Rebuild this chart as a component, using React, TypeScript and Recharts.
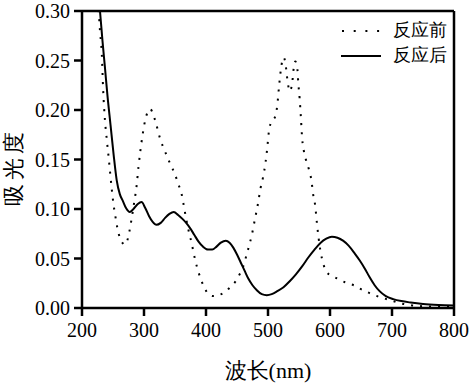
import { LineChart, Line, XAxis, YAxis, ReferenceLine, Legend } from 'recharts'

// 反应前 (dotted)
const beforeWl = [
  226, 229, 232, 234, 237, 240, 243, 245, 248, 251, 254, 257, 261, 265, 269, 273, 276, 280, 284, 288,
  291, 294, 298, 302, 306, 310, 314, 320, 326, 334, 342, 350, 356, 360, 364, 368, 372, 377, 382, 388,
  393, 398, 404, 412, 420, 430, 439, 449, 455, 460, 466, 470, 474, 479, 484, 488, 492, 496, 499, 501,
  504, 508, 512, 515, 518, 521, 525, 528, 531, 535, 539, 541, 544, 547, 549, 551, 553, 555, 558, 562,
  566, 570, 573, 576, 579, 584, 590, 595, 602, 611, 624, 638, 650, 664, 680, 697, 712, 729, 760, 800,
]
const beforeAbs = [
  0.31, 0.28, 0.256, 0.222, 0.19, 0.17, 0.152, 0.139, 0.12, 0.104, 0.092, 0.081, 0.071, 0.066, 0.064, 0.068, 0.076, 0.09, 0.106, 0.123,
  0.142, 0.158, 0.176, 0.19, 0.198, 0.201, 0.197, 0.185, 0.171, 0.158, 0.146, 0.135, 0.124, 0.117, 0.104, 0.09, 0.078, 0.065, 0.05, 0.036,
  0.027, 0.02, 0.014, 0.012, 0.013, 0.016, 0.021, 0.028, 0.035, 0.042, 0.055, 0.064, 0.074, 0.09, 0.106, 0.121, 0.132, 0.147, 0.163, 0.176,
  0.186, 0.19, 0.194, 0.205, 0.225, 0.242, 0.253, 0.248, 0.232, 0.219, 0.227, 0.24, 0.249, 0.244, 0.226, 0.212, 0.193, 0.172, 0.158, 0.148,
  0.14, 0.129, 0.114, 0.104, 0.085, 0.06, 0.043, 0.036, 0.033, 0.03, 0.026, 0.023, 0.019, 0.015, 0.011, 0.008, 0.005, 0.003, 0.0015, 0.001,
]

// 反应后 (solid)
const afterWl = [
  226, 229, 233, 237, 241, 246, 251, 256, 261, 266, 271, 277, 283, 290, 296, 302, 308, 314, 320, 327,
  334, 341, 348, 355, 362, 368, 374, 381, 388, 395, 403, 410, 417, 424, 432, 438, 444, 450, 456, 462,
  468, 475, 482, 490, 498, 506, 515, 525, 535, 545, 555, 565, 575, 585, 594, 603, 612, 621, 630, 640,
  648, 656, 664, 672, 680, 690, 702, 715, 730, 750, 775, 800,
]
const afterAbs = [
  0.32, 0.3, 0.27, 0.243, 0.215, 0.185, 0.155, 0.129, 0.115, 0.108, 0.101, 0.097, 0.1, 0.105, 0.107, 0.101, 0.093, 0.087, 0.084, 0.086,
  0.091, 0.095, 0.097, 0.094, 0.09, 0.086, 0.081, 0.074, 0.067, 0.062, 0.059, 0.059, 0.062, 0.066, 0.068, 0.066, 0.061, 0.054, 0.046, 0.038,
  0.03, 0.023, 0.018, 0.014, 0.013, 0.014, 0.017, 0.021, 0.027, 0.034, 0.042, 0.051, 0.059, 0.066, 0.07, 0.072, 0.071, 0.068, 0.063, 0.055,
  0.048, 0.04, 0.031, 0.023, 0.017, 0.012, 0.009, 0.007, 0.0055, 0.004, 0.003, 0.0025,
]

const xTicks = [200, 300, 400, 500, 600, 700, 800]
const yTicks = [0, 0.05, 0.1, 0.15, 0.2, 0.25, 0.3]

const before = beforeWl.map((wl, i) => ({ wl, a: beforeAbs[i] }))
const after = afterWl.map((wl, i) => ({ wl, a: afterAbs[i] }))

const serif = 'Liberation Serif'
const tickStyle = { fontSize: 20, fill: '#000', style: { fontFamily: serif } }

function YTitle({ viewBox }: any) {
  const cx = viewBox.x + 13
  const cy = viewBox.y + viewBox.height / 2 + 7
  return (
    <text x={cx} y={cy} transform={`rotate(-90, ${cx}, ${cy})`} textAnchor="middle" dominantBaseline="central"
      fontSize={22} style={{ fontFamily: serif }} letterSpacing={4} fill="#000">
      吸光度
    </text>
  )
}

function XTitle({ viewBox }: any) {
  const cx = viewBox.x + viewBox.width / 2
  return (
    <text x={cx} y={viewBox.y + 62} textAnchor="middle" dominantBaseline="central" fontSize={22}
      style={{ fontFamily: serif }} fill="#000">
      波长(nm)
    </text>
  )
}

function LegendBox() {
  const row = { display: 'flex', alignItems: 'center', height: 25 }
  const txt = { fontSize: 18, fontFamily: serif, color: '#000', marginLeft: 12, lineHeight: '25px' }
  return (
    <div>
      <div style={row}>
        <svg width={40} height={6}><line x1={1} y1={3} x2={40} y2={3} stroke="#000" strokeWidth={2} strokeDasharray="2 9.7" /></svg>
        <span style={txt}>反应前</span>
      </div>
      <div style={row}>
        <svg width={40} height={6}><line x1={0} y1={3} x2={40} y2={3} stroke="#000" strokeWidth={2} /></svg>
        <span style={txt}>反应后</span>
      </div>
    </div>
  )
}

export default function App() {
  return (
    <div style={{ position: 'absolute', left: 0, top: 0, background: '#fff', fontFamily: serif }}>
      <LineChart width={474} height={383} margin={{ top: 11, right: 20, bottom: 0, left: 0 }}>
        <XAxis
          dataKey="wl" type="number" domain={[200, 800]} ticks={xTicks} allowDataOverflow
          axisLine={{ stroke: '#000', strokeWidth: 2.5 }} tickLine={{ stroke: '#000', strokeWidth: 2.5 }}
          tickSize={8} tickMargin={7} height={75} tick={tickStyle} interval={0}
          label={<XTitle />}
        />
        <YAxis
          type="number" domain={[0, 0.3]} ticks={yTicks} allowDataOverflow width={82}
          tickFormatter={(v: number) => v.toFixed(2)}
          axisLine={{ stroke: '#000', strokeWidth: 2.5 }} tickLine={{ stroke: '#000', strokeWidth: 2.5 }}
          tickSize={8} tickMargin={4} tick={tickStyle} interval={0}
          label={<YTitle />}
        />
        <ReferenceLine y={0.3} stroke="#000" strokeWidth={2.5} />
        <ReferenceLine x={800} stroke="#000" strokeWidth={2.5} />
        <Line data={before} dataKey="a" type="monotone" stroke="#000" strokeWidth={2} strokeDasharray="2 7"
          dot={false} isAnimationActive={false} name="反应前" />
        <Line data={after} dataKey="a" type="monotone" stroke="#000" strokeWidth={2}
          dot={false} isAnimationActive={false} name="反应后" />
        <Legend
          layout="vertical" align="center" verticalAlign="middle" content={<LegendBox />}
          wrapperStyle={{ position: 'absolute', top: 18, left: 341, width: 120, bottom: 'auto', right: 'auto' }}
        />
      </LineChart>
    </div>
  )
}
